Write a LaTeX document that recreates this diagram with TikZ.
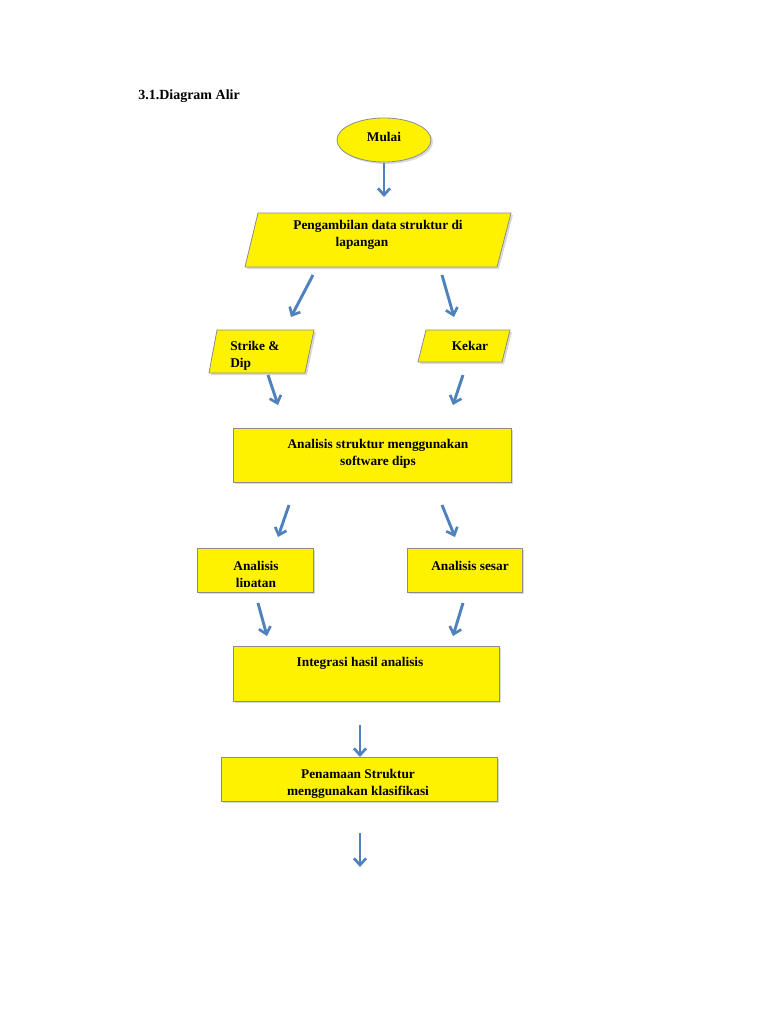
\documentclass[tikz,border=0pt]{standalone}
\usepackage{fontspec}
\setmainfont{Liberation Serif}
\usetikzlibrary{shapes.geometric,arrows.meta,shadows}
\begin{document}
\begin{tikzpicture}[x=0.75pt,y=-0.75pt,
  box/.style={draw=black!45,line width=0.6pt,fill=yellow,drop shadow={opacity=0.3,shadow xshift=1.5pt,shadow yshift=-1.5pt}},
  lbl/.style={font=\bfseries\fontsize{10}{12}\selectfont,inner sep=0pt},
  arr/.style={draw=blue!40!black!30!cyan!60!blue,color={rgb,255:red,79;green,129;blue,189},line width=2.2pt,-{Straight Barb[length=5pt,width=9pt,line width=2pt]}}]
\useasboundingbox (0,0) rectangle (768,1024);
\node[lbl,anchor=west,font=\bfseries\fontsize{10.5}{12}\selectfont] (title) at (138,96) {3.1.Diagram Alir};
% shapes
\filldraw[box] (384,140) ellipse [x radius=47,y radius=22];
\node[lbl] (mulai) at (384,137) {Mulai};
\filldraw[box] (258,213) -- (511,213) -- (497,267) -- (245,267) -- cycle;
\node[lbl] (p1) at (378,226) {Pengambilan data struktur di};
\node[lbl] (p2) at (362,243) {lapangan};
\filldraw[box] (217,330) -- (314,330) -- (305,373) -- (209,373) -- cycle;
\node[lbl,anchor=west] (s1) at (230,346) {Strike \&};
\node[lbl,anchor=west] (s2) at (230,364) {Dip};
\filldraw[box] (426,330) -- (510,330) -- (502,362) -- (418,362) -- cycle;
\node[lbl] (kekar) at (470,346) {Kekar};
\filldraw[box] (233,428) rectangle (511,482);
\node[lbl] (a1) at (378,445) {Analisis struktur menggunakan};
\node[lbl] (a2) at (378,462) {software dips};
\filldraw[box] (197,548) rectangle (313,592);
\node[lbl] (l1) at (256,566) {Analisis};
\begin{scope}
\clip (197,548) rectangle (313,586);
\node[lbl] (l2) at (256,584) {lipatan};
\end{scope}
\filldraw[box] (407,548) rectangle (522,592);
\node[lbl] (ss) at (470,566) {Analisis sesar};
\filldraw[box] (233,646) rectangle (499,701);
\node[lbl] (ih) at (360,663) {Integrasi hasil analisis};
\filldraw[box] (221,757) rectangle (497,801);
\node[lbl] (pn1) at (358,774) {Penamaan Struktur};
\node[lbl] (pn2) at (358,792) {menggunakan klasifikasi};
% arrows
\foreach \i/\a/\b/\c/\d in {1/384/163/384/197, 2/313/275/291/317, 3/442/275/454/317, 4/268/375/278/405, 5/463/375/453/405, 6/289/505/278/537, 7/442/505/455/537, 8/258/603/267/636, 9/463/603/453/636, 10/360/725/360/757, 11/360/833/360/867}{
  \coordinate (s\i) at (\a,\b); \coordinate (e\i) at (\c,\d);
  \draw[arr] (s\i) -- (e\i);
}
\end{tikzpicture}
\end{document}
